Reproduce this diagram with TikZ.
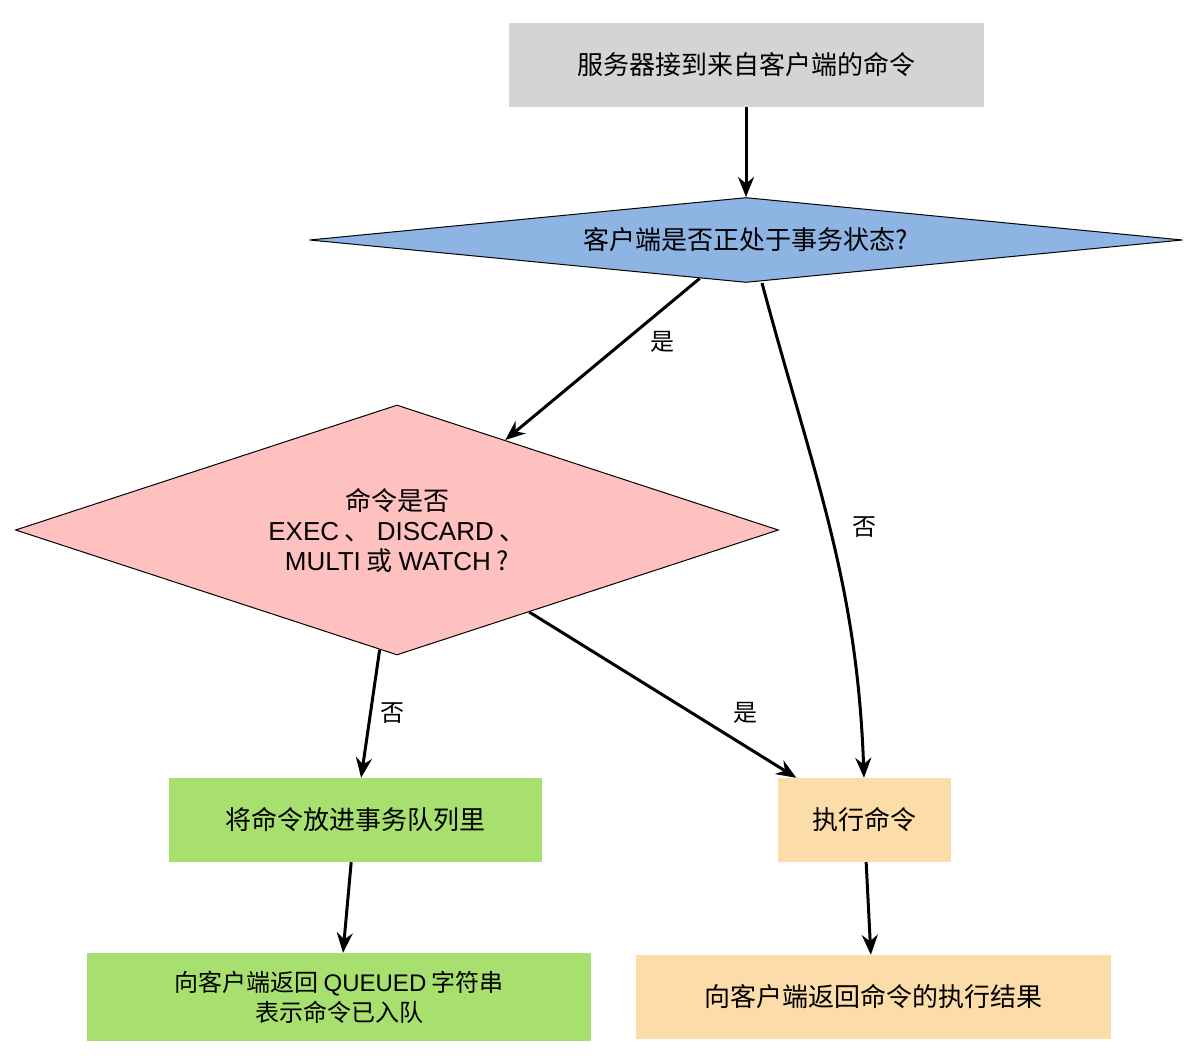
\documentclass[tikz,border=0pt]{standalone}
\usepackage{fontspec}
\setmainfont{Noto Sans CJK SC}
\newfontfamily\latinf{Liberation Sans}
\usetikzlibrary{shapes.geometric,arrows.meta}
\begin{document}
\begin{tikzpicture}[x=1pt,y=-1pt,
  every node/.style={font=\fontsize{26}{30}\selectfont, inner sep=0pt},
  box/.style={rectangle, minimum height=84pt, align=center},
  arr/.style={line width=3pt, -{Stealth[length=20pt,width=16pt]}},
  lab/.style={font=\fontsize{24}{28}\selectfont}]
\useasboundingbox (0,0) rectangle (1192,1059);
\fill[white] (0,0) rectangle (1192,1059);
\node[box, fill=black!17, minimum width=475pt] (top) at (746,65) {服务器接到来自客户端的命令};
\node[diamond, draw, line width=1pt, fill={rgb,255:red,142;green,180;blue,227}, minimum width=873pt, minimum height=85pt, shape aspect=10.3] (d1) at (746,240) {客户端是否正处于事务状态?};
\node[diamond, draw, line width=1pt, fill={rgb,255:red,255;green,192;blue,192}, minimum width=763pt, minimum height=250pt, shape aspect=3.05, align=center] (d2) at (397,530) {命令是否\\{\latinf EXEC} 、 {\latinf DISCARD} 、\\{\latinf MULTI} 或 {\latinf WATCH} ?};
\node[box, fill={rgb,255:red,168;green,224;blue,112}, minimum width=373pt] (g1) at (355,820) {将命令放进事务队列里};
\node[box, fill={rgb,255:red,252;green,220;blue,168}, minimum width=173pt] (ex) at (864,820) {执行命令};
\node[box, fill={rgb,255:red,168;green,224;blue,112}, minimum width=504pt, minimum height=88pt, font=\fontsize{24}{30}\selectfont] (g2) at (339,997) {向客户端返回 {\latinf QUEUED} 字符串\\表示命令已入队};
\node[box, fill={rgb,255:red,252;green,220;blue,168}, minimum width=475pt] (o2) at (873,997) {向客户端返回命令的执行结果};
\draw[arr] (top) -- (d1);
\draw[arr] (d1) -- (d2);
\draw[arr] (d1.south) ++(16,0) coordinate (s1) (s1) to[out=-75,in=92] (ex.north);
\draw[arr] (d2) -- (g1);
\draw[arr] (d2) -- (ex);
\draw[arr] (g1) -- (g2);
\draw[arr] (ex) -- (o2);
\node[lab] (l1) at (662,342) {是};
\node[lab] (l2) at (864,527) {否};
\node[lab] (l3) at (392,713) {否};
\node[lab] (l4) at (745,713) {是};
\end{tikzpicture}
\end{document}
